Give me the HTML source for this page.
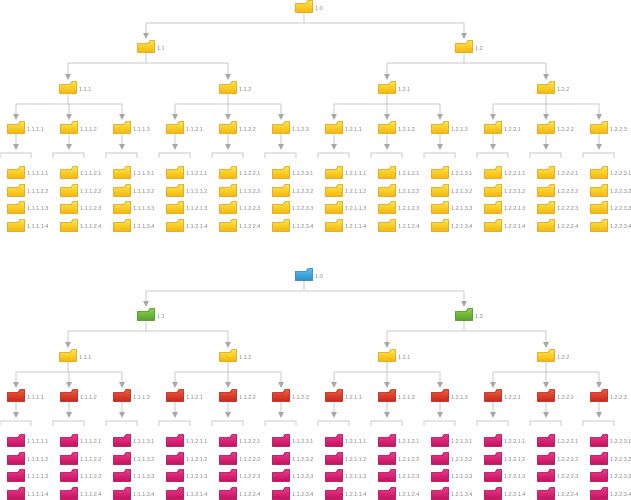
<!DOCTYPE html>
<html><head><meta charset="utf-8"><style>
html,body{margin:0;padding:0;background:#fff;width:631px;height:500px;overflow:hidden}
text{font-family:"Liberation Sans",sans-serif;font-size:5.8px;letter-spacing:-0.15px;fill:#8a8a8a}
</style></head><body>
<svg width="631" height="500" viewBox="0 0 631 500" xmlns="http://www.w3.org/2000/svg">
<defs>
<linearGradient id="gy" x1="0" y1="0" x2="0" y2="1"><stop offset="0" stop-color="#ffe84a"/><stop offset="1" stop-color="#f6b60a"/></linearGradient>
<linearGradient id="gb" x1="0" y1="0" x2="0" y2="1"><stop offset="0" stop-color="#5cc2ee"/><stop offset="1" stop-color="#2a8fcc"/></linearGradient>
<linearGradient id="gg" x1="0" y1="0" x2="0" y2="1"><stop offset="0" stop-color="#8fd04a"/><stop offset="1" stop-color="#52a22a"/></linearGradient>
<linearGradient id="gr" x1="0" y1="0" x2="0" y2="1"><stop offset="0" stop-color="#f05a3a"/><stop offset="1" stop-color="#c8281e"/></linearGradient>
<linearGradient id="gm" x1="0" y1="0" x2="0" y2="1"><stop offset="0" stop-color="#ec3a8a"/><stop offset="1" stop-color="#c4105e"/></linearGradient>
<path id="fp" d="M0.5 3.5H11L13 0.5H17.5V12.5H0.5Z"/>
<g id="fy"><use href="#fp" fill="url(#gy)" stroke="#d8a020" stroke-width="0.8"/></g>
<g id="fb"><use href="#fp" fill="url(#gb)" stroke="#2a80b8" stroke-width="0.8"/></g>
<g id="fg"><use href="#fp" fill="url(#gg)" stroke="#4a8a22" stroke-width="0.8"/></g>
<g id="fr"><use href="#fp" fill="url(#gr)" stroke="#b02418" stroke-width="0.8"/></g>
<g id="fm"><use href="#fp" fill="url(#gm)" stroke="#a80c50" stroke-width="0.8"/></g>
<g id="cy"><use href="#fy" x="-9" y="166"/><use href="#fy" x="-9" y="184"/><use href="#fy" x="-9" y="201"/><use href="#fy" x="-9" y="219"/></g>
<g id="cm"><use href="#fm" x="-9" y="166"/><use href="#fm" x="-9" y="184"/><use href="#fm" x="-9" y="201"/><use href="#fm" x="-9" y="219"/></g>
<g id="br"><path d="M0 134V145M-16 158V153H15V158" fill="none" stroke="#c8c8c8" stroke-width="1"/><path d="M-3 144h6l-3 6z" fill="#a8a8a8"/></g>
<g id="L">
<path fill="none" stroke="#c8c8c8" stroke-width="1" d="M304 12V23M146 23H464M146 23V35M464 23V35M146 53V63M68 63H228M68 63V76M228 63V76M464 53V63M387 63H546M387 63V76M546 63V76M68 94V104M16 104H122M16 104V116M69 104V116M122 104V116M228 94V104M175 104H281M175 104V116M228 104V116M281 104V116M387 94V104M334 104H440M334 104V116M387 104V116M440 104V116M546 94V104M493 104H599M493 104V116M546 104V116M599 104V116"/>
<path fill="#a8a8a8" d="M143 33h6l-3 6zM461 33h6l-3 6zM65 74h6l-3 6zM225 74h6l-3 6zM384 74h6l-3 6zM543 74h6l-3 6zM13 114h6l-3 6zM66 114h6l-3 6zM119 114h6l-3 6zM172 114h6l-3 6zM225 114h6l-3 6zM278 114h6l-3 6zM331 114h6l-3 6zM384 114h6l-3 6zM437 114h6l-3 6zM490 114h6l-3 6zM543 114h6l-3 6zM596 114h6l-3 6z"/>
<use href="#br" x="16"/><use href="#br" x="69"/><use href="#br" x="122"/><use href="#br" x="175"/><use href="#br" x="228"/><use href="#br" x="281"/><use href="#br" x="334"/><use href="#br" x="387"/><use href="#br" x="440"/><use href="#br" x="493"/><use href="#br" x="546"/><use href="#br" x="599"/>
</g>
<g id="T">
<text x="315" y="10">1.0</text>
<text x="157" y="50">1.1</text><text x="475" y="50">1.2</text>
<text x="79" y="91">1.1.1</text><text x="239" y="91">1.1.2</text><text x="398" y="91">1.2.1</text><text x="557" y="91">1.2.2</text>
<text x="27" y="131">1.1.1.1</text><text x="80" y="131">1.1.1.2</text><text x="133" y="131">1.1.1.3</text><text x="186" y="131">1.1.2.1</text><text x="239" y="131">1.1.2.2</text><text x="292" y="131">1.1.2.3</text><text x="345" y="131">1.2.1.1</text><text x="398" y="131">1.2.1.2</text><text x="451" y="131">1.2.1.3</text><text x="504" y="131">1.2.2.1</text><text x="557" y="131">1.2.2.2</text><text x="610" y="131">1.2.2.3</text>
<text x="27" y="175">1.1.1.1.1</text><text x="27" y="193">1.1.1.1.2</text><text x="27" y="210">1.1.1.1.3</text><text x="27" y="228">1.1.1.1.4</text>
<text x="80" y="175">1.1.1.2.1</text><text x="80" y="193">1.1.1.2.2</text><text x="80" y="210">1.1.1.2.3</text><text x="80" y="228">1.1.1.2.4</text>
<text x="133" y="175">1.1.1.3.1</text><text x="133" y="193">1.1.1.3.2</text><text x="133" y="210">1.1.1.3.3</text><text x="133" y="228">1.1.1.3.4</text>
<text x="186" y="175">1.1.2.1.1</text><text x="186" y="193">1.1.2.1.2</text><text x="186" y="210">1.1.2.1.3</text><text x="186" y="228">1.1.2.1.4</text>
<text x="239" y="175">1.1.2.2.1</text><text x="239" y="193">1.1.2.2.2</text><text x="239" y="210">1.1.2.2.3</text><text x="239" y="228">1.1.2.2.4</text>
<text x="292" y="175">1.1.2.3.1</text><text x="292" y="193">1.1.2.3.2</text><text x="292" y="210">1.1.2.3.3</text><text x="292" y="228">1.1.2.3.4</text>
<text x="345" y="175">1.2.1.1.1</text><text x="345" y="193">1.2.1.1.2</text><text x="345" y="210">1.2.1.1.3</text><text x="345" y="228">1.2.1.1.4</text>
<text x="398" y="175">1.2.1.2.1</text><text x="398" y="193">1.2.1.2.2</text><text x="398" y="210">1.2.1.2.3</text><text x="398" y="228">1.2.1.2.4</text>
<text x="451" y="175">1.2.1.3.1</text><text x="451" y="193">1.2.1.3.2</text><text x="451" y="210">1.2.1.3.3</text><text x="451" y="228">1.2.1.3.4</text>
<text x="504" y="175">1.2.2.1.1</text><text x="504" y="193">1.2.2.1.2</text><text x="504" y="210">1.2.2.1.3</text><text x="504" y="228">1.2.2.1.4</text>
<text x="557" y="175">1.2.2.2.1</text><text x="557" y="193">1.2.2.2.2</text><text x="557" y="210">1.2.2.2.3</text><text x="557" y="228">1.2.2.2.4</text>
<text x="610" y="175">1.2.2.3.1</text><text x="610" y="193">1.2.2.3.2</text><text x="610" y="210">1.2.2.3.3</text><text x="610" y="228">1.2.2.3.4</text>
</g>
</defs>

<use href="#L"/>
<use href="#fy" x="295" y="0"/>
<use href="#fy" x="137" y="40"/><use href="#fy" x="455" y="40"/>
<use href="#fy" x="59" y="81"/><use href="#fy" x="219" y="81"/><use href="#fy" x="378" y="81"/><use href="#fy" x="537" y="81"/>
<use href="#fy" x="7" y="121"/><use href="#fy" x="60" y="121"/><use href="#fy" x="113" y="121"/><use href="#fy" x="166" y="121"/><use href="#fy" x="219" y="121"/><use href="#fy" x="272" y="121"/><use href="#fy" x="325" y="121"/><use href="#fy" x="378" y="121"/><use href="#fy" x="431" y="121"/><use href="#fy" x="484" y="121"/><use href="#fy" x="537" y="121"/><use href="#fy" x="590" y="121"/>
<use href="#cy" x="16"/><use href="#cy" x="69"/><use href="#cy" x="122"/><use href="#cy" x="175"/><use href="#cy" x="228"/><use href="#cy" x="281"/><use href="#cy" x="334"/><use href="#cy" x="387"/><use href="#cy" x="440"/><use href="#cy" x="493"/><use href="#cy" x="546"/><use href="#cy" x="599"/>
<use href="#T"/>

<g transform="translate(0,268)">
<use href="#L"/>
<use href="#fb" x="295" y="0"/>
<use href="#fg" x="137" y="40"/><use href="#fg" x="455" y="40"/>
<use href="#fy" x="59" y="81"/><use href="#fy" x="219" y="81"/><use href="#fy" x="378" y="81"/><use href="#fy" x="537" y="81"/>
<use href="#fr" x="7" y="121"/><use href="#fr" x="60" y="121"/><use href="#fr" x="113" y="121"/><use href="#fr" x="166" y="121"/><use href="#fr" x="219" y="121"/><use href="#fr" x="272" y="121"/><use href="#fr" x="325" y="121"/><use href="#fr" x="378" y="121"/><use href="#fr" x="431" y="121"/><use href="#fr" x="484" y="121"/><use href="#fr" x="537" y="121"/><use href="#fr" x="590" y="121"/>
<use href="#cm" x="16"/><use href="#cm" x="69"/><use href="#cm" x="122"/><use href="#cm" x="175"/><use href="#cm" x="228"/><use href="#cm" x="281"/><use href="#cm" x="334"/><use href="#cm" x="387"/><use href="#cm" x="440"/><use href="#cm" x="493"/><use href="#cm" x="546"/><use href="#cm" x="599"/>
<use href="#T"/>
</g>
</svg>
</body></html>
